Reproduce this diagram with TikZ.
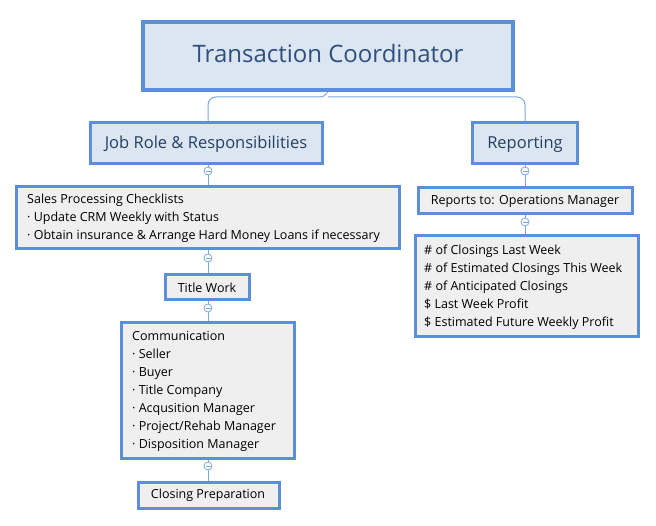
\documentclass[tikz,border=0pt]{standalone}
\usepackage{fontspec}
\setmainfont{Open Sans}
\begin{document}
\begin{tikzpicture}[x=1pt,y=-1pt,
  bl/.style={draw=bdr,line width=3pt},
  top/.style={bl,fill=topf},
  lst/.style={bl,fill=lstf},
  ln/.style={draw=lnc,line width=1pt},
  tog/.style={circle,draw=lnc,fill=white,line width=0.8pt,minimum size=8pt,inner sep=0pt},
  lt/.style={font=\fontsize{12.5}{18}\selectfont,anchor=west,align=left,inner sep=0pt}]
\definecolor{bdr}{HTML}{5B8FD6}
\definecolor{topf}{HTML}{DCE6F2}
\definecolor{lstf}{HTML}{EFEFEF}
\definecolor{lnc}{HTML}{7AA7E0}
\definecolor{tit}{HTML}{2F4F7F}
\useasboundingbox (0,0) rectangle (656,526);
% connectors
\draw[ln,rounded corners=8pt] (328,90) -- (328,97) -- (208,97) -- (208,123);
\draw[ln,rounded corners=8pt] (328,97) -- (525,97) -- (525,123);
\draw[ln] (208,164) -- (208,187); \draw[ln] (208,249) -- (208,275);
\draw[ln] (208,300) -- (208,323); \draw[ln] (208,458) -- (208,482);
\draw[ln] (525,164) -- (525,188); \draw[ln] (525,214) -- (525,236);
% boxes
\draw[top,line width=4pt] (143,22) rectangle (513,90);
\node[font=\fontsize{24}{28}\selectfont,text=tit] (t) at (328,54) {Transaction Coordinator};
\draw[top] (90,123) rectangle (322,164);
\node[font=\fontsize{16.5}{20}\selectfont,text=tit!80!black] (j) at (206,144) {Job Role \& Responsibilities};
\draw[top] (472,123) rectangle (577,164);
\node[font=\fontsize{16.5}{20}\selectfont,text=tit!80!black] (r) at (525,144) {Reporting};
\draw[lst] (16,187) rectangle (399,249);
\node[lt] (s) at (27,218) {Sales Processing Checklists\\· Update CRM Weekly with Status\\· Obtain insurance \& Arrange Hard Money Loans if necessary};
\draw[lst] (165,275) rectangle (249,300);
\node[font=\fontsize{12.5}{18}\selectfont] (tw) at (207,288) {Title Work};
\draw[lst] (121,323) rectangle (294,458);
\node[lt] (c) at (132,391) {Communication\\· Seller\\· Buyer\\· Title Company\\· Acqusition Manager\\· Project/Rehab Manager\\· Disposition Manager};
\draw[lst] (138,482) rectangle (279,508);
\node[font=\fontsize{12.5}{18}\selectfont] (cp) at (208,495) {Closing Preparation};
\draw[lst] (418,188) rectangle (632,214);
\node[font=\fontsize{12.5}{18}\selectfont] (rt) at (525,201) {Reports to: Operations Manager};
\draw[lst] (415,236) rectangle (638,337);
\node[lt] (m) at (424,287) {\# of Closings Last Week\\\# of Estimated Closings This Week\\\# of Anticipated Closings\\\$ Last Week Profit\\\$ Estimated Future Weekly Profit};
% toggles
\foreach \p in {(208,171),(208,258),(208,308),(208,466),(525,171),(525,222)}
  \node[tog] at \p {\tikz[x=1pt,y=1pt]\draw[lnc,line width=0.7pt](-2.5,0)--(2.5,0);};
\end{tikzpicture}
\end{document}
